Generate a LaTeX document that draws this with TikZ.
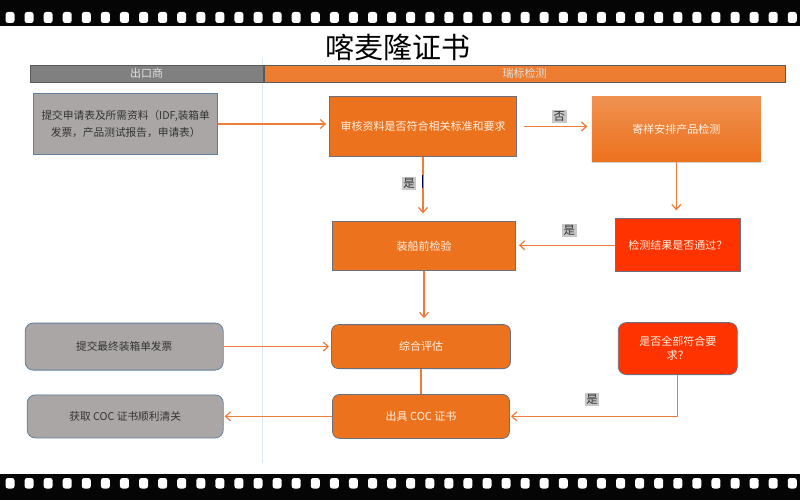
\documentclass[tikz,border=0pt]{standalone}
\usepackage{fontspec}
\setmainfont{Noto Sans CJK SC}
\usepackage{xcolor}
\usetikzlibrary{arrows.meta,positioning,shadows}
\definecolor{filmblack}{HTML}{050505}
\definecolor{boxorange}{HTML}{EC721E}
\definecolor{headorange}{HTML}{ED7D31}
\definecolor{boxred}{HTML}{FF3300}
\definecolor{boxgray}{HTML}{ABA6A6}
\definecolor{edgeblue}{HTML}{5F7F9F}
\definecolor{edgegray}{HTML}{6B7080}
\definecolor{linkorange}{HTML}{EE7D3A}
\definecolor{dividerblue}{HTML}{DDE8F3}
\tikzset{
  headbar/.style = {
    rectangle,
    draw=black!65,
    text=white!88!black,
    minimum height=17pt,
    inner sep=0pt,
    font=\fontsize{11}{13}\selectfont
  },
  orangebox/.style = {
    rectangle,
    draw=edgegray,
    fill=boxorange,
    thick,
    text=white!90!orange,
    align=center,
    inner sep=0pt,
    font=\fontsize{11}{14}\selectfont
  },
  orangeround/.style = {
    orangebox,
    rounded corners=7pt
  },
  redbox/.style = {
    orangebox,
    fill=boxred
  },
  graybox/.style = {
    rectangle,
    draw=edgeblue,
    fill=boxgray,
    thick,
    text=black!80,
    align=center,
    inner sep=0pt,
    font=\fontsize{10.7}{17}\selectfont
  },
  grayround/.style = {
    graybox,
    rounded corners=8pt
  },
  marklabel/.style = {
    fill=black!22,
    text=black!80,
    inner sep=1.5pt,
    font=\fontsize{11.5}{13}\selectfont
  },
  linkarrow/.style = {
    -{Straight Barb[length=5pt,width=9pt]},
    draw=linkorange,
    line width=1.25pt
  },
  filmhole/.style = {
    fill=white,
    rounded corners=2.5pt
  }
}
\begin{document}
\begin{tikzpicture}[x=1pt,y=-1pt]
    \useasboundingbox (0,0) rectangle (800,500);
    % film strip
    \fill[filmblack] (0,0) rectangle (800,26);
    \fill[filmblack] (0,474) rectangle (800,500);
    \foreach \i in {0,...,41} {
      \fill[filmhole] (5.5+19.08*\i,12) rectangle ++(9,11);
      \fill[filmhole] (5.5+19.08*\i,478) rectangle ++(9,10.5);
    }
    \draw[dividerblue, line width=1pt] (262.5,58) -- (262.5,463);
    \node[font=\fontsize{29}{32}\selectfont] (title) at (397.5,47) {喀麦隆证书};
    \node[headbar, fill=black!50, minimum width=233pt] (exporter) at (146.5,73.5) {出口商};
    \node[headbar, fill=headorange, minimum width=521pt] (inspector) at (524.5,73.5) {瑞标检测};
    \node[orangebox, minimum width=187pt, minimum height=60pt] (review) at (423,126.5) {审核资料是否符合相关标准和要求};
    \node[graybox, minimum width=184pt, minimum height=61pt, left=111pt of review, yshift=2.5pt] (submit) {提交申请表及所需资料（IDF,装箱单\\发票，产品测试报告，申请表）};
    \node[orangebox, minimum width=169pt, minimum height=64pt, right=74.5pt of review, yshift=-2.5pt,
      draw=none, top color=headorange!85!white, bottom color=boxorange, drop shadow={shadow xshift=0pt,shadow yshift=-1.5pt,opacity=.35}] (sample) {寄样安排产品检测};
    \node[orangebox, minimum width=183pt, minimum height=49pt, below=64.5pt of review, xshift=1pt] (preship) {装船前检验};
    \node[redbox, minimum width=125pt, minimum height=53pt, below=57pt of sample, xshift=1.5pt] (result) {检测结果是否通过？};
    \node[orangeround, minimum width=179pt, minimum height=44pt, below=53pt of preship, xshift=-3pt] (overall) {综合评估};
    \node[orangeround, minimum width=177pt, minimum height=44pt, below=25pt of overall] (cert) {出具 COC 证书};
    \node[redbox, rounded corners=8pt, minimum width=119pt, minimum height=52pt, below=50pt of result] (allok) {是否全部符合要\\求？};
    \node[grayround, minimum width=198pt, minimum height=47pt, left=107.5pt of overall] (final) {提交最终装箱单发票};
    \node[grayround, minimum width=196pt, minimum height=43pt, left=108.5pt of cert] (obtain) {获取 COC 证书顺利清关};
    \draw[linkarrow, shorten >=3pt] (submit.east) -- (submit.east -| review.west);
    \draw[linkarrow, shorten <=7pt, shorten >=4pt] (review.east) -- node[marklabel, pos=.57, above=3pt] (no) {否} (review.east -| sample.west);
    \draw[linkarrow, shorten >=8pt] (review.south) -- node[marklabel, pos=.41, left=6pt] (yesa) {是} (review.south |- preship.north);
    \draw[linkarrow, shorten >=8pt] (sample.south) -- (sample.south |- result.north);
    \draw[linkarrow, shorten >=3pt] (result.west) -- node[marklabel, pos=.46, above=8pt] (yesb) {是} (result.west -| preship.east);
    \draw[linkarrow, shorten >=6pt] (preship.south) -- (preship.south |- overall.north);
    \draw[linkorange, line width=1.25pt] (overall.south) -- (cert.north);
    \draw[linkarrow, shorten >=2pt] (final.east) -- (overall.west);
    \draw[linkarrow, shorten >=1pt] (cert.west) -- (obtain.east);
    \draw[linkarrow, shorten >=1pt] (allok.south) |- node[marklabel, pos=.755, above=10pt] (yesc) {是} (cert.east);
    \draw[black!70!blue, line width=1pt] (422,175) -- (422,188);
  \end{tikzpicture}
\end{document}
